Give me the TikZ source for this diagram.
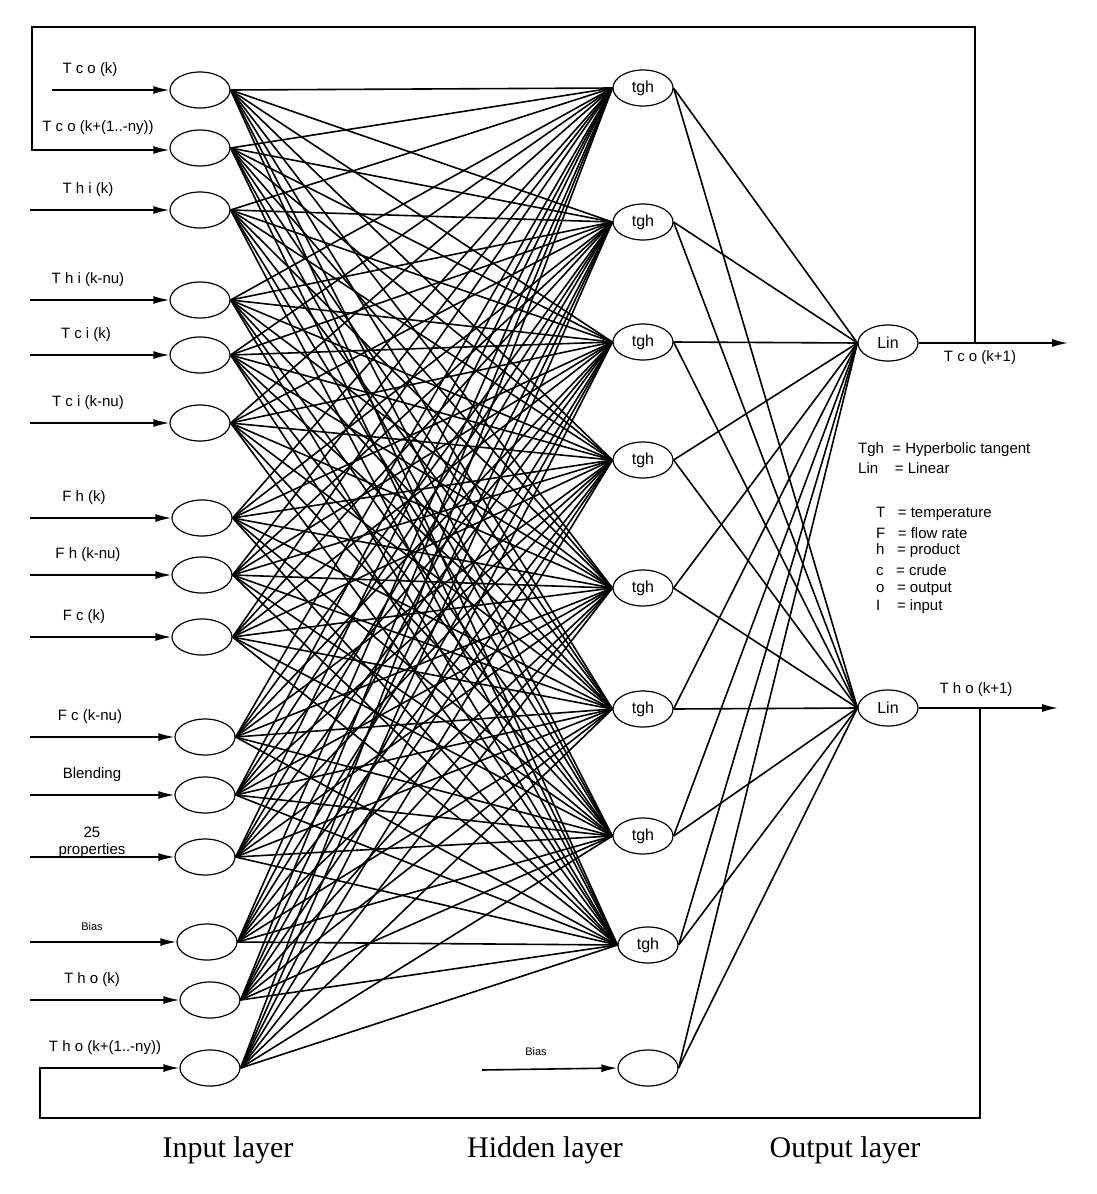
\documentclass[tikz,border=0pt]{standalone}
\usepackage{fontspec}
\setmainfont{Liberation Sans}
\newfontfamily\serif{Liberation Serif}
\usetikzlibrary{arrows.meta,shapes.geometric}
\tikzset{
  neu/.style={draw, line width=1.2pt, ellipse, minimum width=60pt, minimum height=36pt, inner sep=0pt, font=\fontsize{16}{18}\selectfont},
  conn/.style={line width=1.6pt},
  arr/.style={line width=1.6pt, -{Latex[length=16pt,width=8pt]}},
  lab/.style={font=\fontsize{15}{17}\selectfont, inner sep=0pt},
  leg/.style={font=\fontsize{15}{17}\selectfont, inner sep=0pt, anchor=west},
  layer/.style={font=\serif\fontsize{30}{34}\selectfont}
}
\begin{document}
\begin{tikzpicture}[x=1pt,y=-1pt]
\useasboundingbox (0,0) rectangle (1096,1194);
% input layer
\foreach \n/\x/\y/\t/\lx in {1/200/90/{T c o (k)}/90, 2/200/148/{T c o (k+(1..-ny))}/98, 3/200/210/{T h i (k)}/88, 4/200/300/{T h i (k-nu)}/88, 5/200/355/{T c i (k)}/86, 6/200/423/{T c i (k-nu)}/88, 7/202/518/{F h (k)}/84, 8/202/575/{F h (k-nu)}/88, 9/202/637/{F c (k)}/84, 10/205/737/{F c (k-nu)}/90, 11/205/795/{Blending}/92, 12/205/857/{}/92, 13/207/942/{}/92, 14/210/1000/{T h o (k)}/92, 15/210/1068/{T h o (k+(1..-ny))}/105}{
  \node[neu] (i\n) at (\x,\y) {};
  \node[lab] at (\lx,\y-20) {\t};
}
\node[lab, align=center] at (92,842) {25\\properties};
\node[lab, font=\fontsize{11}{13}\selectfont] at (92,927) {Bias};
% arrows into inputs
\draw[arr] (52,0 |- i1.west) -- (i1.west);
\foreach \n in {3,4,5,6,7,8,9,10,11,12,13,14}{
  \draw[arr] (30,0 |- i\n.west) -- (i\n.west);
}
% hidden layer
\foreach \n/\y in {1/88,2/222,3/342,4/460,5/588,6/709,7/836}{
  \node[neu] (h\n) at (643,\y) {tgh};
}
\node[neu] (h8) at (648,945) {tgh};
\node[neu] (h9) at (648,1068) {};
% output layer
\node[neu] (o1) at (888,343) {Lin};
\node[neu] (o2) at (888,708) {Lin};
% input -> hidden
\foreach \i in {1,...,15}{
  \foreach \h in {1,...,8}{
    \draw[conn] (i\i.east) -- (h\h.west);
  }
}
% hidden -> output
\foreach \h in {1,...,9}{
  \draw[conn] (h\h.east) -- (o1.west);
  \draw[conn] (h\h.east) -- (o2.west);
}
% bias into hidden
\coordinate (bh) at (482,1070);
\draw[arr] (bh) -- (h9.west);
\node[lab, font=\fontsize{11}{13}\selectfont] at (536,1052) {Bias};
% outputs
\coordinate (e1) at (1068,343);
\coordinate (e2) at (1058,708);
\draw[arr] (o1.east) -- (e1);
\draw[arr] (o2.east) -- (e2);
\node[lab] at (980,358) {T c o (k+1)};
\node[lab] at (976,690) {T h o (k+1)};
% feedback top
\coordinate (f1) at (975,343);
\draw[arr] (f1) -- (975,27) -- (32,27) -- (32,150) -- (i2.west |- 0,150);
% feedback bottom
\coordinate (f2) at (980,708);
\draw[arr] (f2) -- (980,1118) -- (40,1118) -- (40,1068) -- (i15.west);
% legend
\node[leg] at (858,450) {Tgh\ \ = Hyperbolic tangent};
\node[leg] at (858,468) {Lin\ \ \ \ = Linear};
\node[leg] at (876,514) {T\ \ \ = temperature};
\node[leg] at (876,533) {F\ \ \ = flow rate};
\node[leg] at (876,551) {h\ \ \ = product};
\node[leg] at (876,570) {c\ \ \ = crude};
\node[leg] at (876,589) {o\ \ \ = output};
\node[leg] at (876,607) {I\ \ \ \ = input};
% layer labels
\node[layer] at (228,1150) {Input layer};
\node[layer] at (545,1150) {Hidden layer};
\node[layer] at (845,1150) {Output layer};
\end{tikzpicture}
\end{document}
